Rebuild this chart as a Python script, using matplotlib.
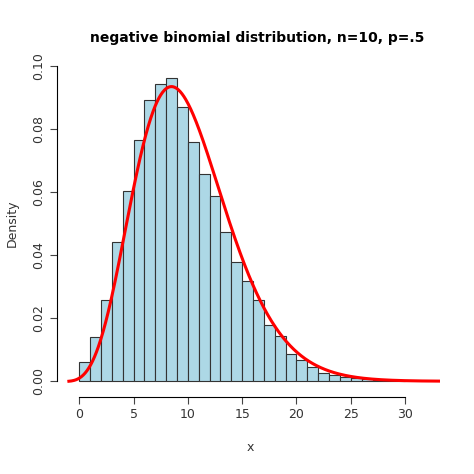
import math
import numpy as np
import matplotlib
matplotlib.use("Agg")
import matplotlib.pyplot as plt

bin_edges = list(range(0, 31))
densities = [0.006, 0.014, 0.0256, 0.0442, 0.0602, 0.0763, 0.089, 0.0943, 0.0961, 0.087,
             0.0759, 0.0658, 0.0588, 0.0472, 0.0379, 0.0317, 0.0256, 0.0179, 0.0144, 0.0087,
             0.0068, 0.0045, 0.0027, 0.002, 0.0014, 0.001, 0.0008, 0.0005, 0.0003, 0.0002]
n_size, prob = 10, 0.5

xs = np.linspace(-0.95, 33.5, 600)
ys = [math.exp(math.lgamma(x + n_size) - math.lgamma(n_size) - math.lgamma(x + 1)
               + n_size * math.log(prob) + x * math.log(1 - prob)) for x in xs]

fig = plt.figure(figsize=(4.74, 4.74), dpi=100)
ax = fig.add_axes([0.127, 0.169, 0.801, 0.719])
lefts = bin_edges[:-1]
ax.bar(lefts, densities, width=1, align="edge", color="#add8e6", edgecolor="#333333", linewidth=0.8)
ax.plot(xs, ys, color="red", linewidth=2.2)
ax.set_xlim(-1.75, 33.2)
ax.set_ylim(-0.004, 0.104)
for s in ["top", "right"]:
    ax.spines[s].set_visible(False)
ax.spines["left"].set_bounds(0, 0.10)
ax.spines["bottom"].set_bounds(0, 30)
ax.spines["left"].set_position(("outward", 2))
ax.spines["bottom"].set_position(("outward", 2))
ax.set_xticks([0, 5, 10, 15, 20, 25, 30])
ax.set_yticks([0, 0.02, 0.04, 0.06, 0.08, 0.10])
ax.set_yticklabels(["0.00", "0.02", "0.04", "0.06", "0.08", "0.10"], rotation=90, va="center")
ax.tick_params(labelsize=9, length=5, color="#444444", labelcolor="#333333")
ax.set_xlabel("x", fontsize=9, color="#333333", labelpad=14)
ax.set_ylabel("Density", fontsize=9, color="#333333", labelpad=10)
ax.set_title("negative binomial distribution, n=10, p=.5", fontsize=10, fontweight="bold", pad=8, x=0.52)
fig.savefig("out.png", dpi=100)
